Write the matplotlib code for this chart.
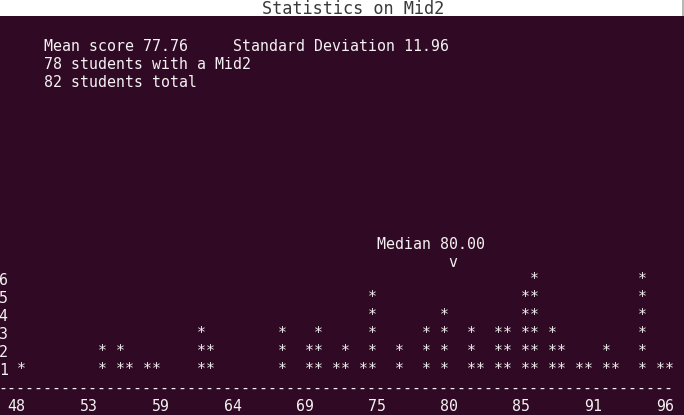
import matplotlib
matplotlib.use("Agg")
import matplotlib.pyplot as plt
from matplotlib.patches import Rectangle

# ---- summary figures -------------------------------------------------------
subject = "Mid2"
mean_score = 77.76
std_dev = 11.96
n_with_score = 78
n_total = 82
median_score = 80.00
score_min, score_max = 48, 96

# students per histogram column (73 columns spanning score_min..score_max)
bin_counts = [
    1, 0, 0, 0, 0, 0, 0, 0,
    0, 2, 0, 2, 1, 0, 1, 1,
    0, 0, 0, 0, 3, 2, 0, 0,
    0, 0, 0, 0, 0, 3, 0, 0,
    2, 3, 0, 1, 2, 0, 1, 5,
    0, 0, 2, 0, 0, 3, 0, 4,
    0, 0, 3, 1, 0, 3, 3, 0,
    5, 6, 0, 3, 2, 0, 1, 1,
    0, 2, 1, 0, 0, 6, 0, 1,
    1,
]
tick_labels = ["48", "53", "59", "64", "69", "75", "80", "85", "91", "96"]
level_labels = ["1", "2", "3", "4", "5", "6"]

# ---- terminal look ---------------------------------------------------------
BG = "#300A24"
FG = "#F4F2F3"
MONO = "DejaVu Sans Mono"
FS = 10.75          # gives a 9 px character cell at 100 dpi
W, H = 684, 415
CELL_W, CELL_H = 9, 18
X0, Y0 = 3.2, 27    # pixel centre of column 0 / row 0

fig = plt.figure(figsize=(W / 100, H / 100), dpi=100, facecolor=BG)
ax = fig.add_axes([0, 0, 1, 1])
ax.set_facecolor(BG)
ax.set_xlim(-X0 / CELL_W, (W - X0) / CELL_W)
ax.set_ylim((H - Y0) / CELL_H, -Y0 / CELL_H)
ax.axis("off")

BASE = 0.33  # baseline offset inside a text row


def put(col, row, s, ha="left", **kw):
    x = col - 0.5 if ha == "left" else col + 0.5
    ax.text(x, row + BASE, s, ha=ha, va="baseline", family=MONO,
            fontsize=FS, color=FG, **kw)


# header lines
put(5, 1, f"Mean score {mean_score:.2f}     Standard Deviation {std_dev:.2f}")
put(5, 2, f"{n_with_score} students with a {subject}")
put(5, 3, f"{n_total} students total")

# histogram geometry
first_col = 2
axis_row = 20
n_bins = len(bin_counts)
bin_width = (score_max - score_min) / (n_bins - 1)

# level labels on the left
for k, lab in enumerate(level_labels, start=1):
    put(0, axis_row - k, lab)

# stars
for i, cnt in enumerate(bin_counts):
    for k in range(1, cnt + 1):
        ax.text(first_col + i, axis_row - k + 0.05, "*", ha="center",
                va="center", family=MONO, fontsize=FS, color=FG)

# axis rule and score labels
put(0, axis_row, "-" * (first_col + n_bins))
for j, lab in enumerate(tick_labels):
    put(first_col + 8 * j, axis_row + 1, lab, ha="right")

# median marker
median_col = first_col + round((median_score - score_min) / bin_width)
put(median_col - 8, axis_row - 8, f"Median {median_score:.2f}")
put(median_col, axis_row - 7, "v")

# window title bar
fig.patches.append(Rectangle((0, 1 - 16.5 / H), 1, 16.5 / H,
                             transform=fig.transFigure, facecolor="white",
                             edgecolor="none", zorder=5))
fig.patches.append(Rectangle((1 - 2 / W, 1 - 16.5 / H), 2 / W, 16.5 / H,
                             transform=fig.transFigure, facecolor="#B8B8B8",
                             edgecolor="none", zorder=6))
fig.text(353 / W, 1 - 8.5 / H, f"Statistics on {subject}", ha="center",
         va="center", family=MONO, fontsize=12.2, color="#3A3A3A", zorder=7)

fig.savefig("out.png", dpi=100, facecolor=BG)
